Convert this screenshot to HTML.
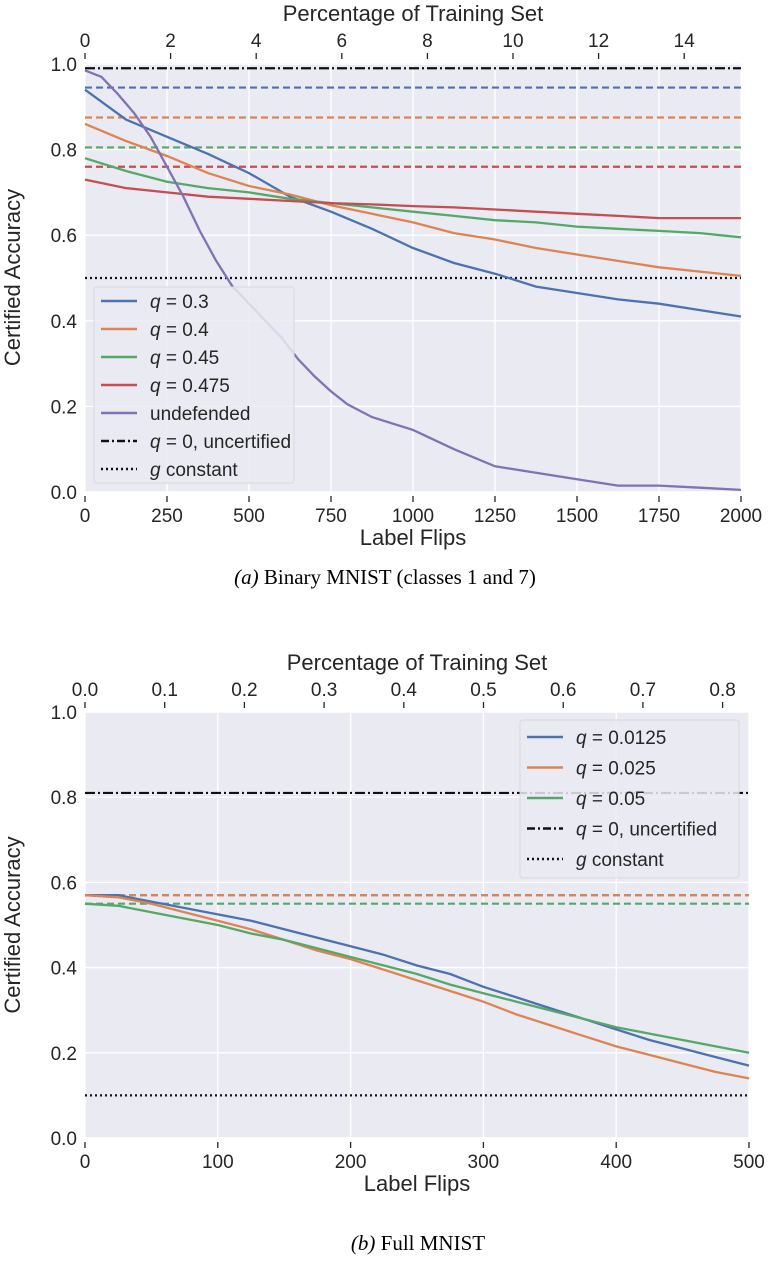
<!DOCTYPE html>
<html><head><meta charset="utf-8"><style>
body{margin:0;background:#fff;width:770px;height:1264px;overflow:hidden}
svg text{font-family:"Liberation Sans",sans-serif;fill:#262626}
.tk{font-size:19px}
.ttl{font-size:22px}
.cap{font-family:"Liberation Serif",serif;font-size:21px;fill:#000}
</style></head><body>
<svg id="s" width="770" height="1264" xmlns="http://www.w3.org/2000/svg">
<g id="c1"></g>
<g id="c2"></g>
<text class="cap" x="385" y="584" text-anchor="middle"><tspan font-style="italic">(a)</tspan> Binary MNIST (classes 1 and 7)</text>
<text class="cap" x="418" y="1250" text-anchor="middle"><tspan font-style="italic">(b)</tspan> Full MNIST</text>
</svg>
<script>
// ---- Chart A data ----
const aX = [0,125,250,375,500,625,750,875,1000,1125,1250,1375,1500,1625,1750,1875,2000];
const aBlue = [0.94,0.87,0.83,0.79,0.745,0.69,0.655,0.615,0.57,0.535,0.51,0.48,0.465,0.45,0.44,0.425,0.41];
const aOrange = [0.86,0.82,0.785,0.745,0.715,0.695,0.67,0.65,0.63,0.605,0.59,0.57,0.555,0.54,0.525,0.515,0.505];
const aGreen = [0.78,0.75,0.725,0.71,0.70,0.685,0.675,0.665,0.655,0.645,0.635,0.63,0.62,0.615,0.61,0.605,0.595];
const aRed = [0.73,0.71,0.70,0.69,0.685,0.68,0.675,0.672,0.668,0.665,0.66,0.655,0.65,0.645,0.64,0.64,0.64];
const aUndefX = [0,50,100,150,200,250,300,350,400,450,500,550,600,650,700,750,800,875,1000,1125,1250,1375,1500,1625,1750,1875,2000];
const aUndef = [0.985,0.97,0.93,0.885,0.83,0.76,0.69,0.61,0.54,0.48,0.44,0.40,0.36,0.31,0.27,0.235,0.205,0.175,0.145,0.10,0.06,0.045,0.03,0.015,0.015,0.01,0.005];
const aRefs = [0.945,0.875,0.805,0.76];
const aUncert = 0.99, aConst = 0.5;
const aXTicks = [0,250,500,750,1000,1250,1500,1750,2000];
const aTopTicks = [0,2,4,6,8,10,12,14];
const aYTicks = [0.0,0.2,0.4,0.6,0.8,1.0];
const aLabels = ["q = 0.3","q = 0.4","q = 0.45","q = 0.475","undefended"];
// ---- Chart B data ----
const bX = [0,25,50,75,100,125,150,175,200,225,250,275,300,325,350,375,400,425,450,475,500];
const bBlue = [0.57,0.57,0.555,0.54,0.525,0.51,0.49,0.47,0.45,0.43,0.405,0.385,0.355,0.33,0.305,0.28,0.255,0.23,0.21,0.19,0.17];
const bOrange = [0.57,0.565,0.55,0.53,0.51,0.49,0.465,0.44,0.42,0.395,0.37,0.345,0.32,0.29,0.265,0.24,0.215,0.195,0.175,0.155,0.14];
const bGreen = [0.55,0.545,0.53,0.515,0.50,0.48,0.465,0.445,0.425,0.405,0.385,0.36,0.34,0.32,0.30,0.28,0.26,0.245,0.23,0.215,0.20];
const bRefs = [0.57,0.57,0.55];
const bUncert = 0.81, bConst = 0.1;
const bXTicks = [0,100,200,300,400,500];
const bTopTicks = [0.0,0.1,0.2,0.3,0.4,0.5,0.6,0.7,0.8];
const bYTicks = [0.0,0.2,0.4,0.6,0.8,1.0];
const bLabels = ["q = 0.0125","q = 0.025","q = 0.05"];

const NS="http://www.w3.org/2000/svg";
const COL=["#4c72b0","#dd8452","#55a868","#c44e52","#8172b3"];
function mk(p,t,a,txt){const e=document.createElementNS(NS,t);for(const k in a)e.setAttribute(k,a[k]);if(txt!==undefined)e.textContent=txt;p.appendChild(e);return e;}
function qtext(p,x,y,label,name){
  const t=mk(p,'text',{x:x,y:y,class:'tk'});
  
  
  if(label.startsWith('q')){mk(t,'tspan',{'font-style':'italic'},'q');mk(t,'tspan',{},label.slice(1));}
  else if(label.startsWith('g ')){mk(t,'tspan',{'font-style':'italic'},'g');mk(t,'tspan',{},label.slice(1));}
  else t.textContent=label;
  return t;
}
function chart(g,o){
  const X=v=>o.L+(v-o.x0)/(o.x1-o.x0)*(o.R-o.L);
  const Y=v=>o.B-(v)/(1)*(o.B-o.T1);
  const bg=mk(g,'rect',{x:o.L,y:o.T,width:o.R-o.L,height:o.B-o.T,fill:'#eaeaf2'});
  
  
  o.xt.forEach(v=>{mk(g,'line',{x1:X(v),x2:X(v),y1:o.T,y2:o.B,stroke:'#fff','stroke-width':1.4});
    mk(g,'line',{x1:X(v),x2:X(v),y1:o.B+4,y2:o.B+10,stroke:'#262626','stroke-width':1.3});
    const t=mk(g,'text',{x:X(v),y:o.B+30,class:'tk','text-anchor':'middle'},String(v));
    
    });
  o.yt.forEach(v=>{mk(g,'line',{x1:o.L,x2:o.R,y1:Y(v),y2:Y(v),stroke:'#fff','stroke-width':1.4});
    const t=mk(g,'text',{x:o.L-8,y:Y(v)+7,class:'tk','text-anchor':'end'},v.toFixed(1));
    
    });
  o.tt.forEach(v=>{const px=o.L+v*o.pctPx;
    mk(g,'line',{x1:px,x2:px,y1:o.T-10,y2:o.T-4,stroke:'#262626','stroke-width':1.3});
    const t=mk(g,'text',{x:px,y:o.T-16,class:'tk','text-anchor':'middle'},o.tfmt(v));
    
    });
  const tt=mk(g,'text',{x:(o.L+o.R)/2,y:o.T-42,class:'ttl','text-anchor':'middle'},'Percentage of Training Set');
  
  
  const xt=mk(g,'text',{x:(o.L+o.R)/2,y:o.B+53,class:'ttl','text-anchor':'middle'},'Label Flips');
  
  
  const yt=mk(g,'text',{x:0,y:0,class:'ttl','text-anchor':'middle',transform:`translate(20,${(o.T+o.B)/2}) rotate(-90)`,'font-size':'24px'},'Certified Accuracy');
  
  
  const hl=(v,c,da,n)=>{const l=mk(g,'line',{x1:o.L,x2:o.R,y1:Y(v),y2:Y(v),stroke:c,'stroke-width':2.2,'stroke-dasharray':da});
    
    };
  o.refs.forEach((v,i)=>hl(v,COL[i],'7,4','dashed-ref-'+i));
  hl(o.unc,'#111','10,3,2,3','uncertified-line');
  hl(o.con,'#111','2,3','constant-line');
  o.series.forEach((s,i)=>{
    const d=s.y.map((v,j)=>(j?'L':'M')+X(s.x[j]).toFixed(1)+','+Y(v).toFixed(1)).join('');
    const p=mk(g,'path',{d:d,fill:'none',stroke:COL[i],'stroke-width':2.3});
    
    
  });
  const lg=mk(g,'g',{});
  
  
  mk(lg,'rect',{x:o.lx,y:o.ly,width:o.lw,height:o.lh,fill:'#eaeaf2','fill-opacity':0.85,stroke:'#d8d8e0',rx:3});
  const all=o.labels.map((l,i)=>({l:l,c:COL[i],da:''})).concat([{l:'q = 0, uncertified',c:'#111',da:'8,3,2,3'},{l:'g constant',c:'#111',da:'2,3'}]);
  all.forEach((e,i)=>{const y=o.ly+o.l0+i*o.ld;
    mk(lg,'line',{x1:o.lx+7,x2:o.lx+43,y1:y,y2:y,stroke:e.c,'stroke-width':2.4,'stroke-dasharray':e.da});
    qtext(lg,o.lx+56,y+7,e.l,'legend-entry');});
}
chart(document.getElementById('c1'),{L:85,R:741,T:63,T1:64,B:492,x0:0,x1:2000,xt:aXTicks,yt:aYTicks,tt:aTopTicks,pctPx:42.8,tfmt:v=>String(v),
  refs:aRefs,unc:aUncert,con:aConst,
  series:[{x:aX,y:aBlue},{x:aX,y:aOrange},{x:aX,y:aGreen},{x:aX,y:aRed},{x:aUndefX,y:aUndef}],
  labels:aLabels,lx:94,ly:287,lw:200,lh:196,l0:14,ld:28});
chart(document.getElementById('c2'),{L:85,R:749,T:712,T1:712,B:1138,x0:0,x1:500,xt:bXTicks,yt:bYTicks,tt:bTopTicks,pctPx:797,tfmt:v=>v.toFixed(1),
  refs:bRefs,unc:bUncert,con:bConst,
  series:[{x:bX,y:bBlue},{x:bX,y:bOrange},{x:bX,y:bGreen}],
  labels:bLabels,lx:520,ly:720,lw:219,lh:158,l0:17,ld:30.5});
</script>
</body></html>
